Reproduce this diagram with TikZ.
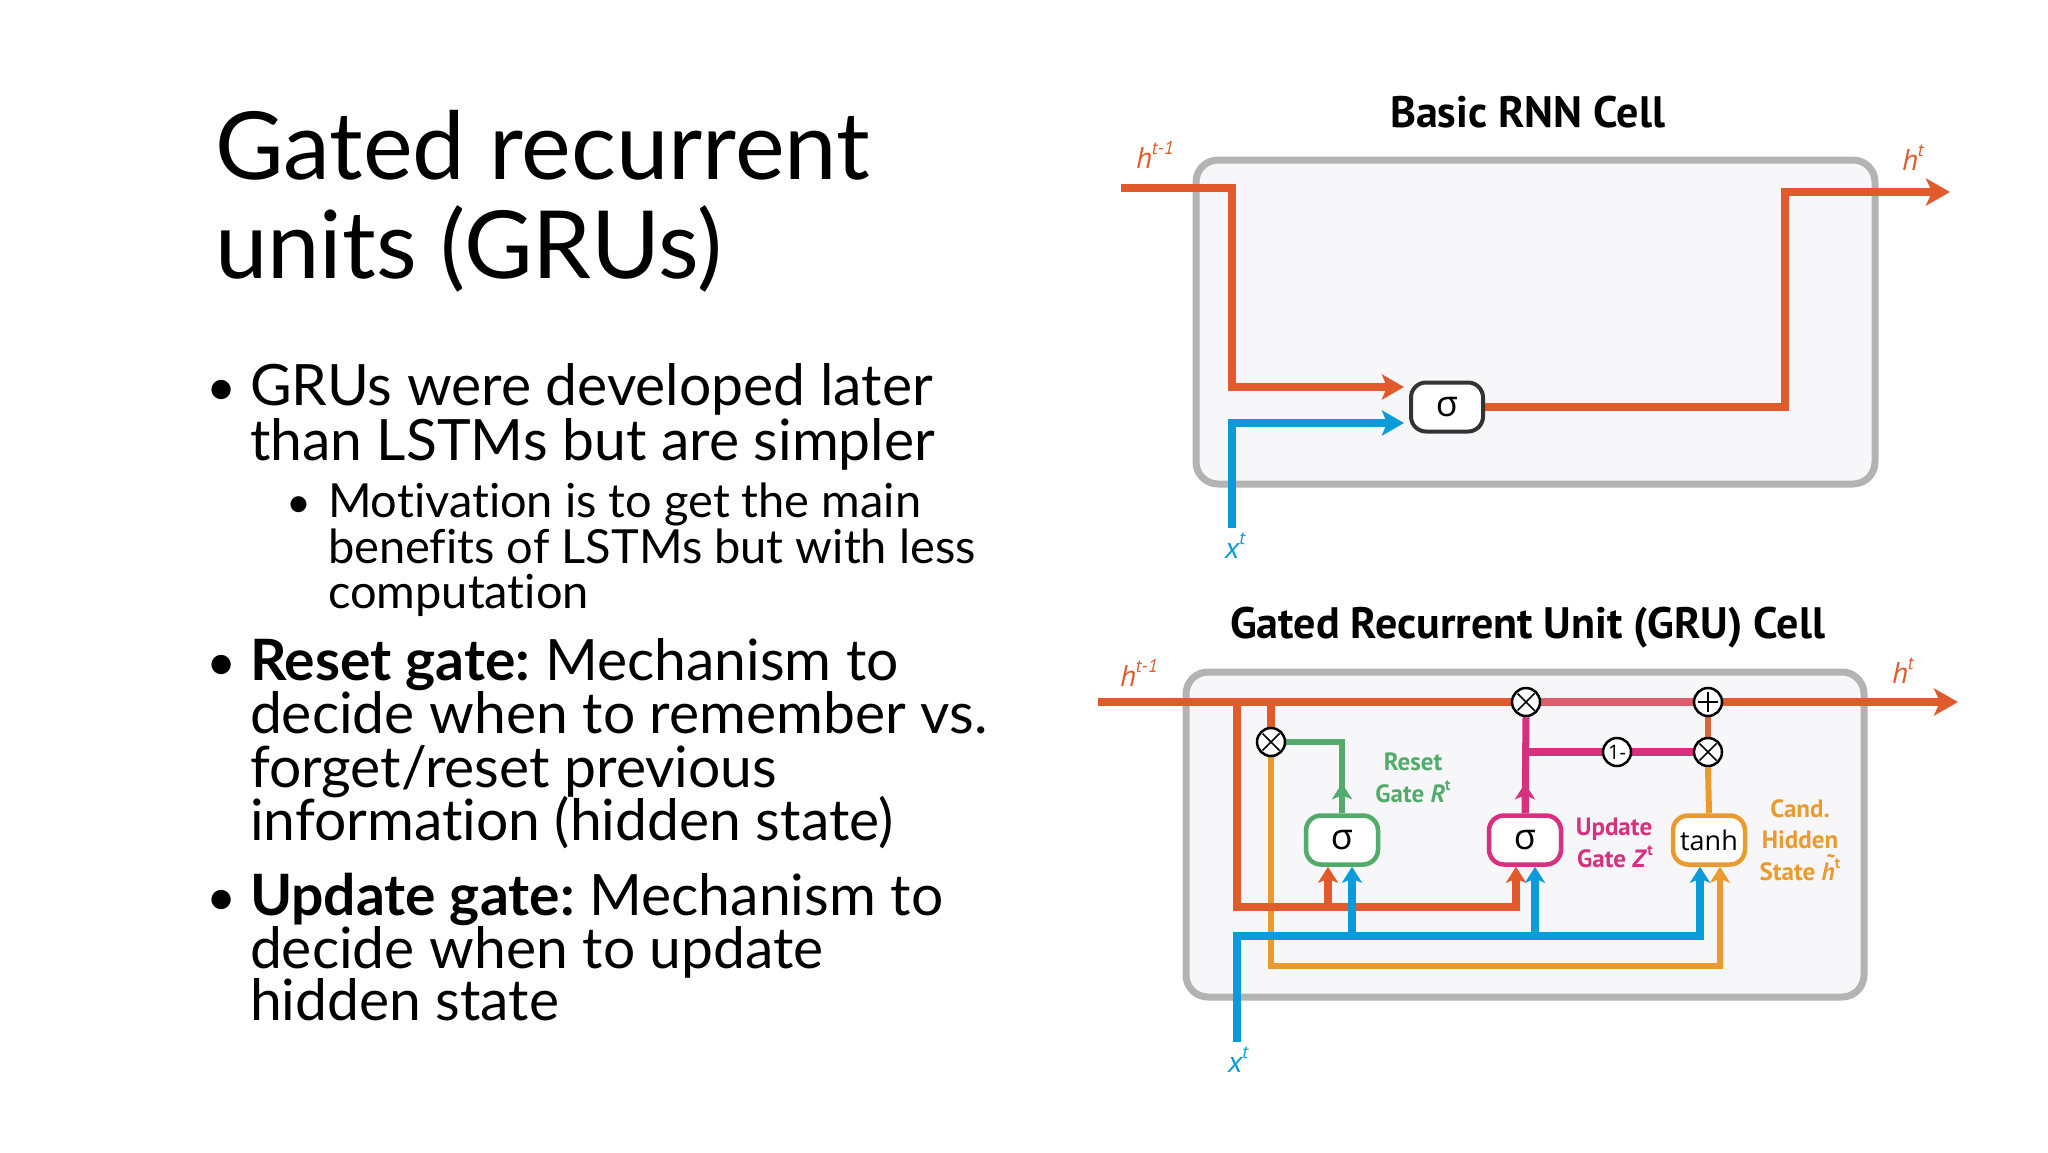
\documentclass[tikz,border=0pt]{standalone}
\usepackage{fontspec}
\setmainfont{Lato}[Ligatures=NoCommon]
\newfontfamily\dfont{PT Sans}
\newfontfamily\gfont{Open Sans}
\usetikzlibrary{arrows.meta,calc}
\definecolor{orng}{HTML}{E05A2B}
\definecolor{blu}{HTML}{0A9BDA}
\definecolor{grn}{HTML}{52AB6B}
\definecolor{pnk}{HTML}{D7307F}
\definecolor{yel}{HTML}{EA9B30}
\definecolor{gry}{HTML}{B3B3B3}
\definecolor{boxfill}{HTML}{F7F7F9}
\definecolor{mixc}{HTML}{DC5E6D}
\definecolor{orng2}{HTML}{D8683A}
\definecolor{dark}{HTML}{333333}
\newcommand\supx[1]{\raisebox{.45em}{\scalebox{0.62}{#1}}}
\newcommand\htil{\ooalign{h\cr\hidewidth\raisebox{0.32em}{\char"02DC}\hidewidth\cr}}
\pgfdeclarelayer{back}
\pgfdeclarelayer{wires}
\pgfsetlayers{back,wires,main}
\begin{document}
\begin{tikzpicture}[x=1pt,y=-1pt,
  txt/.style={anchor=base west,inner sep=0pt,outer sep=0pt},
  ctxt/.style={anchor=base,inner sep=0pt,outer sep=0pt},
  ttl/.style={txt,font=\fontsize{94}{100}\selectfont},
  bl/.style={txt,font=\fontsize{57}{62}\selectfont},
  sbl/.style={txt,font=\fontsize{47}{52}\selectfont},
  bdot/.style={ctxt,font=\fontsize{52}{58}\selectfont},
  sdot/.style={ctxt,font=\fontsize{43}{50}\selectfont},
  dtitle/.style={txt,font=\dfont\bfseries\fontsize{44}{48}\selectfont},
  hlab/.style={txt,text=orng,font=\dfont\itshape\fontsize{30}{34}\selectfont},
  xlab/.style={ctxt,text=blu,font=\dfont\itshape\fontsize{30}{34}\selectfont},
  glab/.style={ctxt,font=\dfont\bfseries\fontsize{25}{28}\selectfont},
  cellbox/.style={draw=gry,fill=boxfill,line width=7pt,rounded corners=22pt},
  gatebox/.style={draw=#1,fill=white,line width=4.5pt,rounded corners=15pt,minimum width=72pt,minimum height=49pt,inner sep=0pt,font=\gfont\fontsize{36}{40}\selectfont},
  orln/.style={draw=orng,line width=7.5pt},
  blln/.style={draw=blu,line width=7.5pt},
  grln/.style={draw=grn,line width=6pt},
  pkln/.style={draw=pnk,line width=7pt},
  yeln/.style={draw=yel,line width=6pt},
  op/.style={circle,draw=black,fill=white,line width=2.5pt,minimum size=28pt,inner sep=0pt},
  timesop/.style={op,path picture={\draw[line width=1.5pt] ($(path picture bounding box.center)+(-8.5,-8.5)$) -- ++(17,17) ($(path picture bounding box.center)+(-8.5,8.5)$) -- ++(17,-17);}},
  plusop/.style={op,path picture={\draw[line width=1.6pt] ($(path picture bounding box.center)+(-10,0)$) -- ++(20,0) ($(path picture bounding box.center)+(0,-10)$) -- ++(0,20);}},
  oneop/.style={op,font=\gfont\fontsize{20}{22}\selectfont},
  bigtip/.tip={Stealth[length=24pt,width=27pt,inset=6pt]},
  midtip/.tip={Stealth[length=22pt,width=25pt,inset=5pt]},
  smalltip/.tip={Stealth[length=16pt,width=20pt,inset=4pt]}
]
\useasboundingbox (0,0) rectangle (2048,1152);
\begin{pgfonlayer}{back}
\fill[white] (0,0) rectangle (2048,1152);
\end{pgfonlayer}

% ---------------- left text ----------------
\node[ttl] (t1) at (215,179) {Gated recurrent};
\node[ttl] (t2) at (215,278) {units (GRUs)};
\node[bdot] (d1) at (222,405) {•};
\node[bl] (a1) at (250,405) {GRUs were developed later};
\node[bl] (a2) at (250,460) {than LSTMs but are simpler};
\node[sdot] (d2) at (299,517) {•};
\node[sbl] (s1) at (328,517) {Motivation is to get the main};
\node[sbl] (s2) at (328,563) {benefits of LSTMs but with less};
\node[sbl] (s3) at (328,608) {computation};
\node[bdot] (d3) at (222,680) {•};
\node[bl] (r1) at (250,680) {\textbf{Reset gate:}\hspace{-0.08em} Mechanism to};
\node[bl] (r2) at (250,733) {decide when to remember vs.};
\node[bl] (r3) at (250,787) {forget/reset previous};
\node[bl] (r4) at (250,840) {information (hidden state)};
\node[bdot] (d4) at (222,915) {•};
\node[bl] (u1) at (250,915) {\textbf{Update gate:}\hspace{-0.08em} Mechanism to};
\node[bl] (u2) at (250,968) {decide when to update};
\node[bl] (u3) at (250,1020) {hidden state};

% ---------------- basic RNN cell ----------------
\node[dtitle] (bt) at (1390,127) {Basic RNN Cell};
\begin{pgfonlayer}{back}
\draw[cellbox] (1196,160) rectangle (1875,484);
\end{pgfonlayer}
\node[gatebox=dark,line width=4pt] (bs) at (1447,407) {σ};
\coordinate (bin) at (1121,188);
\coordinate (bxin) at (1232,528);
\coordinate (bout) at (1950,192);
\begin{pgfonlayer}{wires}
\draw[orln,-{midtip}] (bin) -| (1232,387) -- ($(bs.west)+(-5,-20)$);
\draw[blln,-{midtip}] (bxin) |- ($(bs.west)+(-5,16)$);
\draw[orln,-{bigtip}] (bs.east) -| (1785,192) -- (bout);
\end{pgfonlayer}
\node[hlab] (bh1) at (1136,168) {h\supx{t-1}};
\node[hlab] (bh2) at (1902,170) {h\supx{t}};
\node[xlab] (bx) at (1235,558) {x\supx{t}};

% ---------------- GRU cell ----------------
\node[dtitle] (gt) at (1230,638) {Gated Recurrent Unit (GRU) Cell};
\begin{pgfonlayer}{back}
\draw[cellbox] (1186,672) rectangle (1864,997);
\end{pgfonlayer}

\node[gatebox=grn] (gR) at (1342,840) {σ};
\node[gatebox=pnk] (gZ) at (1525,840) {σ};
\node[gatebox=yel,font=\gfont\fontsize{27}{30}\selectfont] (gH) at (1709,840) {tanh};
\node[timesop] (mx1) at (1526,702) {};
\node[plusop] (pl) at (1708,702) {};
\node[timesop] (rx) at (1271,742) {};
\node[oneop] (om) at (1617,752) {1-};
\node[timesop] (mx2) at (1708,752) {};

\coordinate (gin) at (1098,702);
\coordinate (gout) at (1958,702);
\coordinate (gxin) at (1237,1042);
\coordinate (ob) at (1237,702);
\coordinate (or) at (1271,702);
\coordinate (pj) at (1525,752);

\begin{pgfonlayer}{wires}
% yellow
\draw[yeln,-{smalltip}] (rx.south) |- (1720,966) -- ($(gH.south)+(11,0)$);
\draw[yeln] (gH.north) -- (mx2.south);
% orange branches
\draw[orln,-{smalltip}] (ob) |- (1516,907) -- ($(gZ.south)+(-9,0)$);
\draw[orln,-{smalltip}] (1328,907) -- ($(gR.south)+(-14,0)$);
\draw[orln] (or) -- (rx.north);
\draw[draw=orng2,line width=6pt] (pl.south) -- (mx2.north);
% blue
\draw[blln,-{smalltip}] (gxin) |- (1700,936) -- ($(gH.south)+(-9,0)$);
\draw[blln,-{smalltip}] (1352,936) -- ($(gR.south)+(10,0)$);
\draw[blln,-{smalltip}] (1535,936) -- ($(gZ.south)+(10,0)$);
% green
\draw[grln] (gR.north) |- (rx.east);
\draw[grln,-{smalltip}] (gR.north) -- ++(0,-30);
% pink
\draw[pkln] (gZ.north) -- (mx1.south);
\draw[pkln,-{smalltip}] (gZ.north) -- ++(0,-30);
\draw[pkln,line width=8pt] (pj) -- (om.west);
\draw[pkln,line width=8pt] (om.east) -- (mx2.west);
% main line
\draw[orln] (gin) -- (mx1.west);
\draw[draw=mixc,line width=7.5pt] (mx1.east) -- (pl.west);
\draw[orln,-{bigtip}] (pl.east) -- (gout);
\end{pgfonlayer}

% labels
\node[glab,text=grn] (lr1) at (1413,770) {Reset};
\node[glab,text=grn] (lr2) at (1413,802) {Gate \textit{R}\supx{t}};
\node[glab,text=pnk] (lz1) at (1614,835) {Update};
\node[glab,text=pnk] (lz2) at (1615,867) {Gate \textit{Z}\supx{t}};
\node[glab,text=yel] (lh1) at (1800,817) {Cand.};
\node[glab,text=yel] (lh2) at (1800,848) {Hidden};
\node[glab,text=yel] (lh3) at (1800,880) {State \textit{\htil}\supx{t}};
\node[hlab] (gh1) at (1120,686) {h\supx{t-1}};
\node[hlab] (gh2) at (1892,683) {h\supx{t}};
\node[xlab] (gx) at (1238,1072) {x\supx{t}};
\end{tikzpicture}
\end{document}
